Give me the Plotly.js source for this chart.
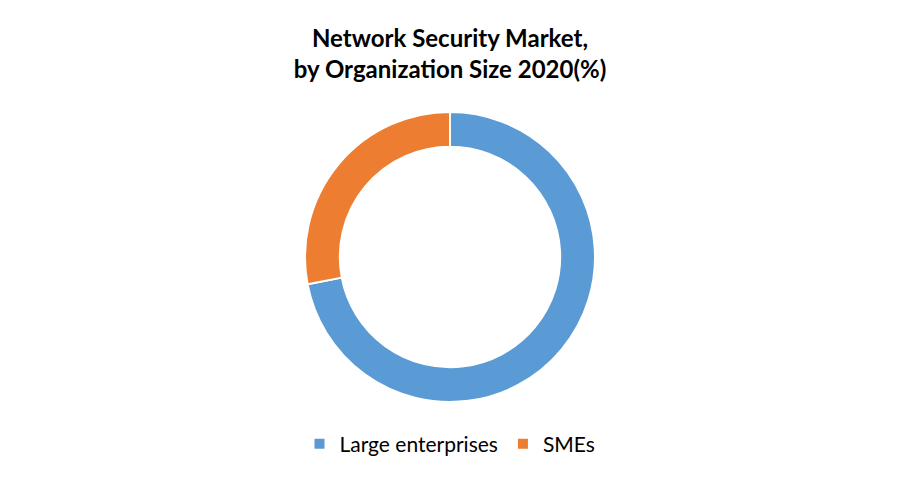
<!DOCTYPE html>
<html>
<head>
<meta charset="utf-8">
<script src="https://cdn.plot.ly/plotly-3.0.1.min.js"></script>
<style>
  html, body { margin: 0; padding: 0; background: #fff; }
  #chart { width: 900px; height: 479px; }
</style>
</head>
<body>
<div id="chart"></div>
<script>
// organization size share, 2020 (%)
var sizeLabels = ["Large enterprises", "SMEs"];
var sizeShares = [72, 28];
var sizeColors = ["#5B9BD5", "#ED7D31"];

var trace = {
  type: 'pie',
  labels: sizeLabels,
  values: sizeShares,
  hole: 0.76,
  sort: false,
  direction: 'clockwise',
  rotation: 0,
  textinfo: 'none',
  hoverinfo: 'label+percent',
  marker: { colors: sizeColors, line: { color: '#ffffff', width: 2 } },
  domain: { x: [0, 1], y: [0.1608, 0.7662] }
};

var layout = {
  width: 900,
  height: 479,
  margin: { l: 0, r: 0, t: 0, b: 0 },
  paper_bgcolor: '#ffffff',
  font: { family: 'Lato, "Open Sans", sans-serif', color: '#000000' },
  title: {
    text: '<b>Network Security Market,<br>by Organization Size 2020(%)</b>',
    font: { size: 24, family: 'Lato, "Open Sans", sans-serif', color: '#000000' },
    x: 0.5, xanchor: 'center',
    y: 1 - 47 / 479, yanchor: 'middle'
  },
  showlegend: true,
  legend: {
    orientation: 'h',
    x: 0.5, xanchor: 'center',
    y: 35 / 479, yanchor: 'middle',
    font: { size: 21, color: '#000000' },
    itemwidth: 30,
    traceorder: 'normal'
  }
};

Plotly.newPlot('chart', [trace], layout, { displayModeBar: false, staticPlot: true });
</script>
</body>
</html>
